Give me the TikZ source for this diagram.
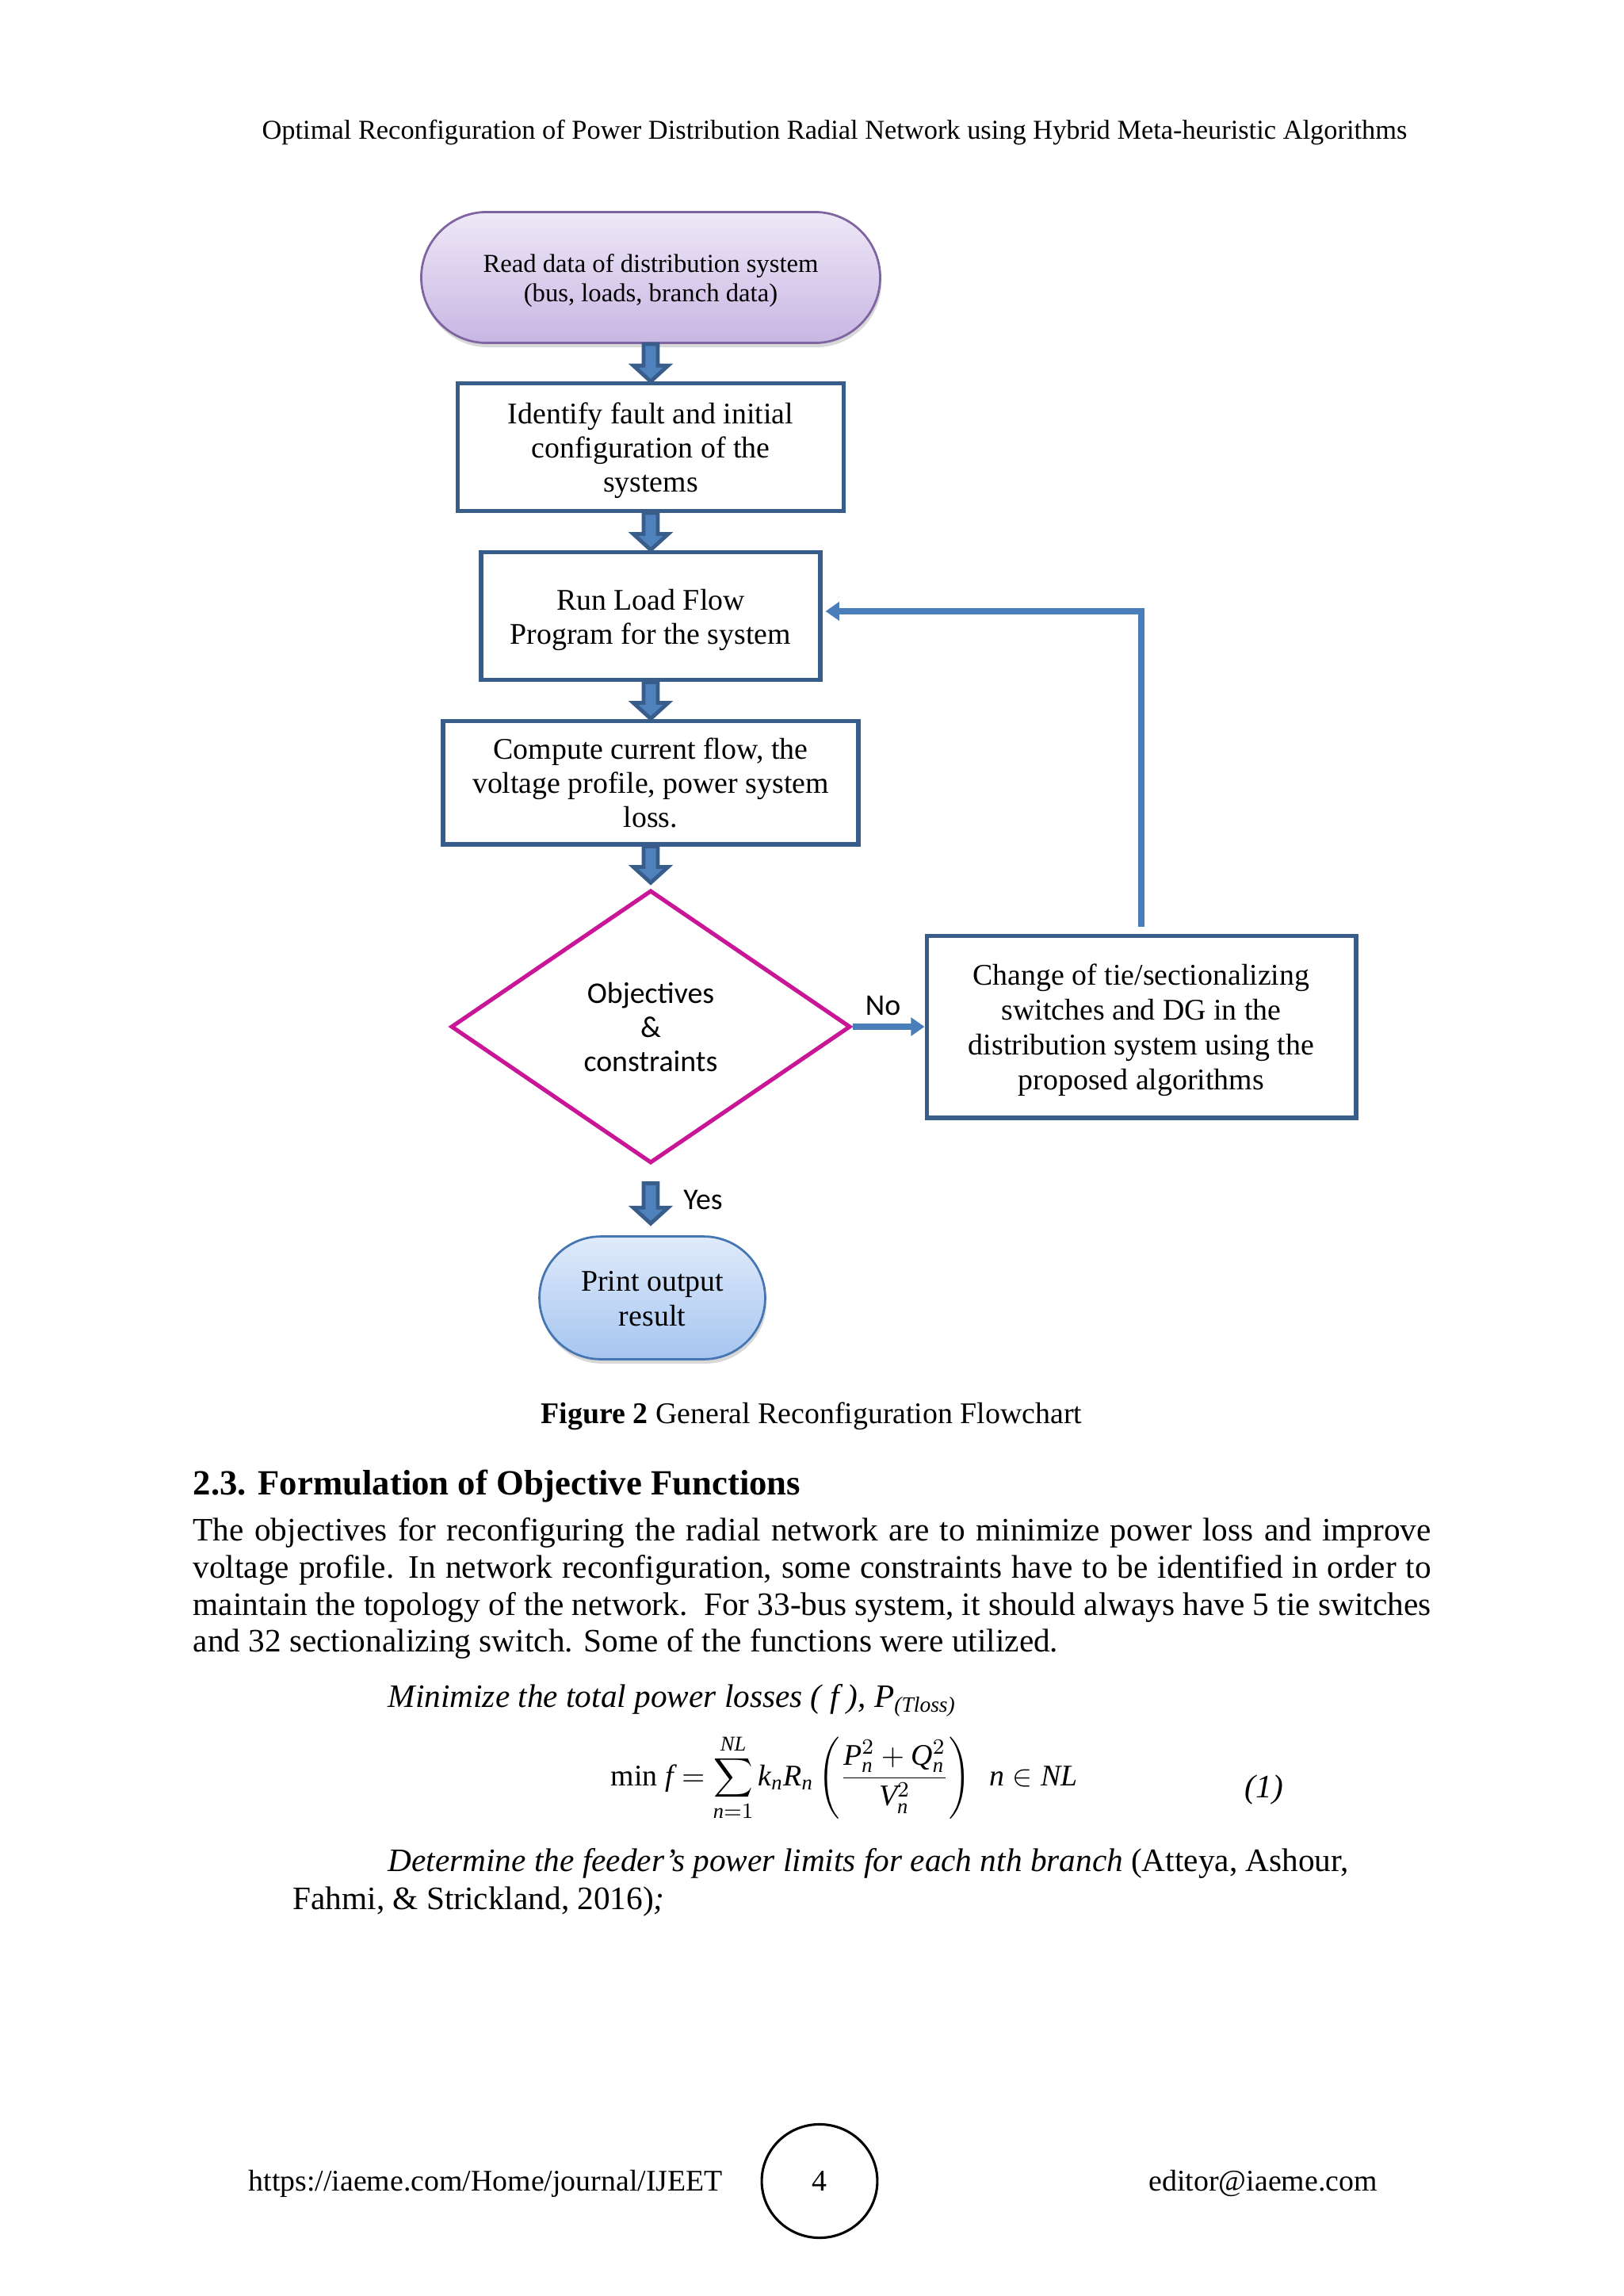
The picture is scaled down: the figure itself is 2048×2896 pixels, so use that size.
\documentclass[tikz,border=0pt]{standalone}
\usepackage{fontspec}
\setmainfont{Liberation Serif}
\newfontfamily\calib{Carlito}
\usetikzlibrary{shapes.geometric,shapes.misc,arrows.meta,calc,shadows}
\definecolor{boxblue}{RGB}{56,93,138}
\definecolor{arrfill}{RGB}{79,129,189}
\definecolor{fbblue}{RGB}{74,126,187}
\definecolor{magent}{RGB}{200,22,150}
\definecolor{lavtop}{RGB}{238,232,247}
\definecolor{lavbot}{RGB}{200,182,227}
\definecolor{lavdraw}{RGB}{128,100,162}
\definecolor{bltop}{RGB}{224,235,251}
\definecolor{blbot}{RGB}{166,197,240}
\definecolor{bldraw}{RGB}{70,118,178}
\def\pxu{0.29066pt}
\newcommand{\blkarrow}[2]{%
  \filldraw[fill=arrfill, draw=boxblue, line width=1.4pt, line join=miter]
   let \p1=#1, \p2=#2 in
   (\x1-9*\pxu,\y1) -- (\x1-9*\pxu,\y2+20*\pxu) -- (\x1-22*\pxu,\y2+20*\pxu) --
   (\x1,\y2) -- (\x1+22*\pxu,\y2+20*\pxu) -- (\x1+9*\pxu,\y2+20*\pxu) --
   (\x1+9*\pxu,\y1) -- cycle;}
\newcommand{\mi}[1]{\mathit{#1}}
\newcommand{\tstrut}{\rule{0pt}{0.95em}}
\newcommand{\bstrut}{\rule[-0.22em]{0pt}{0.22em}}
\begin{document}
\begin{tikzpicture}[x=0.29066pt,y=-0.29066pt,
  procbox/.style={draw=boxblue, line width=1.5pt, fill=white, align=center,
    inner sep=0pt, font=\fontsize{11}{12.5}\selectfont},
  term/.style={rounded rectangle, align=center, inner sep=0pt,
    drop shadow={opacity=0.3, shadow xshift=0.5pt, shadow yshift=-1.6pt}},
  fbline/.style={draw=fbblue, line width=2.1pt, -{Triangle[width=6.6pt,length=5pt]}},
  txt/.style={anchor=base west, inner sep=0pt, font=\fontsize{12}{14}\selectfont},
  lbl/.style={inner sep=0pt, font=\calib\fontsize{11}{13}\selectfont}]
\useasboundingbox (0,0) rectangle (2048,2896);
\fill[white] (0,0) rectangle (2048,2896);

% header
\node[anchor=base, inner sep=0pt, font=\fontsize{10}{12}\selectfont] (hdr) at (1053,175)
  {Optimal Reconfiguration of Power Distribution Radial Network using Hybrid Meta-heuristic Algorithms};

% flowchart nodes
\node[term, draw=lavdraw, line width=0.8pt, top color=lavtop, bottom color=lavbot,
  minimum width=168.3pt, minimum height=48pt, font=\fontsize{9.5}{10.8}\selectfont]
  (t1) at (821,350) {\tstrut Read data of distribution system\\(bus, loads, branch data)\bstrut};
\node[procbox, minimum width=141.5pt, minimum height=46.7pt] (b2) at (821,564)
  {\tstrut Identify fault and initial\\configuration of the\\systems\bstrut};
\node[procbox, minimum width=124.4pt, minimum height=47pt] (b3) at (821,777)
  {\tstrut Run Load Flow\\Program for the system\bstrut};
\node[procbox, minimum width=152.3pt, minimum height=45.3pt] (b4) at (821,987)
  {\tstrut Compute current flow, the\\voltage profile, power system\\loss.\bstrut};
\node[diamond, draw=magent, line width=1.5pt, fill=white, inner sep=0pt,
  minimum width=146.5pt, minimum height=100pt, align=center,
  font=\calib\fontsize{11}{12.5}\selectfont] (dia) at (821,1295)
  {Objectives\\\&\\constraints};
\node[procbox, minimum width=157.5pt, minimum height=66.8pt,
  font=\fontsize{11}{12.8}\selectfont] (b5) at (1440,1295)
  {\tstrut Change of tie/sectionalizing\\switches and DG in the\\distribution system using the\\proposed algorithms\bstrut};
\node[term, draw=bldraw, line width=0.8pt, top color=bltop, bottom color=blbot,
  minimum width=82.8pt, minimum height=45pt, font=\fontsize{11}{12.8}\selectfont]
  (t2) at (823,1637) {\tstrut Print output\\result\bstrut};

% block arrows
\blkarrow{(t1.south)}{(b2.north)}
\blkarrow{(b2.south)}{(b3.north)}
\blkarrow{(b3.south)}{(b4.north)}
\blkarrow{(b4.south)}{($(dia.north)+(0,-7)$)}
\blkarrow{($(dia.south)+(0,23)$)}{($(t2.north)+(0,-15)$)}

% other connectors
\draw[fbline] (dia.east) -- (b5.west);
\draw[fbline] ($(b5.north)+(0,-9)$) |- ($(b3.east)+(4,-6)$);
\node[lbl] (nolab) at (1114,1268) {No};
\node[lbl] (yeslab) at (887,1513) {Yes};

% caption and text
\node[anchor=base, inner sep=0pt, font=\fontsize{11}{13}\selectfont] (cap) at (1024,1795)
  {\textbf{Figure 2} General Reconfiguration Flowchart};
\node[txt, font=\fontsize{13}{15}\selectfont\bfseries] (sec) at (243,1885)
  {2.3. Formulation of Objective Functions};
\node[txt] (p1) at (243,1943) {\hbox to 454pt{The objectives for reconfiguring the radial network are to minimize power loss and improve}};
\node[txt] (p2) at (243,1990) {\hbox to 454pt{voltage profile. In network reconfiguration, some constraints have to be identified in order to}};
\node[txt] (p3) at (243,2037) {\hbox to 454pt{maintain the topology of the network.\ \ For 33-bus system, it should always have 5 tie switches}};
\node[txt] (p4) at (243,2083) {and 32 sectionalizing switch. Some of the functions were utilized.};

\node[txt] (mini) at (489,2153) {\itshape Minimize the total power losses ( f ), P\textsubscript{(Tloss)}};
\node[txt, font=\fontsize{11}{14}\selectfont] (eq) at (770,2252)
  {$\displaystyle \mathrm{min}\ \mi{f}=\sum_{\mi{n}=1}^{\mi{NL}}\mi{k}_{\mi{n}}\mi{R}_{\mi{n}}\left(\frac{\mi{P}_{\mi{n}}^{2}+\mi{Q}_{\mi{n}}^{2}}{\mi{V}_{\mi{n}}^{2}}\right)\hspace{5pt}\mi{n}\in\mi{NL}$};
\node[txt] (eqno) at (1570,2267) {\itshape (1)};
\node[txt] (det1) at (489,2360) {\textit{Determine the feeder’s power limits for each nth branch} (Atteya, Ashour,};
\node[txt] (det2) at (369,2408) {Fahmi, \& Strickland, 2016)\textit{;}};

% footer
\node[txt, font=\fontsize{11}{13}\selectfont] (url) at (313,2763) {https://iaeme.com/Home/journal/IJEET};
\node[ellipse, draw, line width=0.9pt, inner sep=0pt, minimum width=42.4pt, minimum height=41.6pt,
  font=\fontsize{11}{13}\selectfont] (pg) at (1034,2751) {4};
\node[txt, font=\fontsize{11}{13}\selectfont] (mail) at (1449,2763) {editor@iaeme.com};
\end{tikzpicture}
\end{document}
